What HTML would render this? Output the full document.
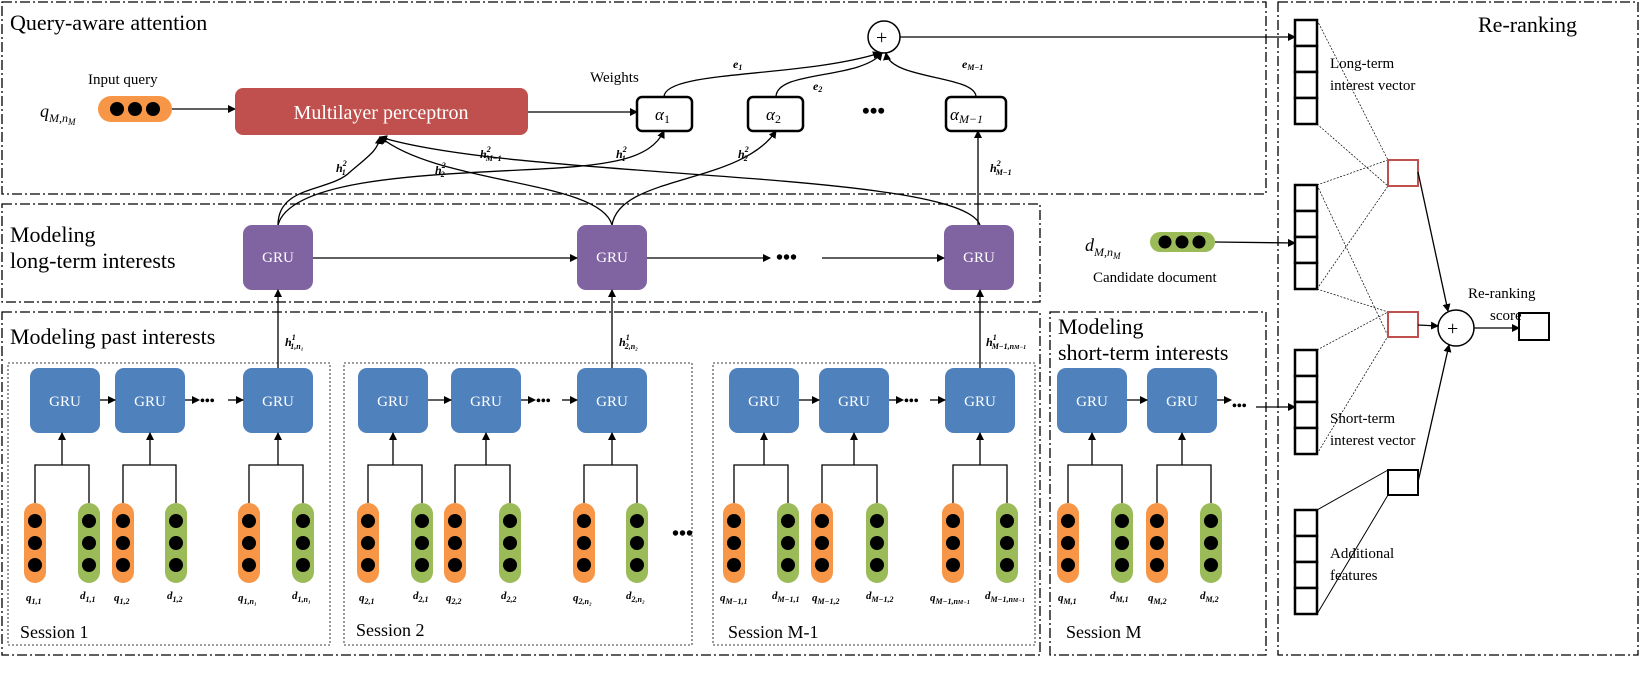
<!DOCTYPE html>
<html><head><meta charset="utf-8"><style>
html,body{margin:0;padding:0;background:#fff;}
svg{display:block;font-family:"Liberation Serif",serif;}
.t{font-size:22px;fill:#000}
.s{font-size:15px}
.g{font-size:15px;fill:#fff;text-anchor:middle}
.b{font-weight:bold;font-style:italic;font-size:12px}
</style></head><body>
<svg width="1641" height="691" viewBox="0 0 1641 691" xmlns="http://www.w3.org/2000/svg">
<defs>
<marker id="a" markerWidth="8" markerHeight="8" refX="7" refY="4" orient="auto" markerUnits="userSpaceOnUse"><path d="M0,0 L8,4 L0,8 z" fill="#000"/></marker>
<g id="po"><rect x="-11" y="0" width="22" height="80" rx="11" fill="#f79646"/><circle cx="0" cy="18" r="7"/><circle cx="0" cy="40" r="7"/><circle cx="0" cy="62" r="7"/></g>
<g id="pg"><rect x="-11" y="0" width="22" height="80" rx="11" fill="#9bbb59"/><circle cx="0" cy="18" r="7"/><circle cx="0" cy="40" r="7"/><circle cx="0" cy="62" r="7"/></g>
<g id="vec"><rect x="0" y="0" width="22" height="26" fill="#fff" stroke="#000" stroke-width="2.5"/><rect x="0" y="26" width="22" height="26" fill="#fff" stroke="#000" stroke-width="2.5"/><rect x="0" y="52" width="22" height="26" fill="#fff" stroke="#000" stroke-width="2.5"/><rect x="0" y="78" width="22" height="26" fill="#fff" stroke="#000" stroke-width="2.5"/></g>
</defs>
<g fill="none" stroke="#000" stroke-width="1.3" stroke-dasharray="10,3,2,3">
<rect x="2" y="2" width="1264" height="192"/>
<rect x="2" y="204" width="1038" height="98"/>
<rect x="2" y="312" width="1038" height="343"/>
<rect x="1050" y="312" width="216" height="343"/>
<rect x="1278" y="2" width="360" height="653"/>
</g>
<g fill="none" stroke="#000" stroke-width="0.8" stroke-dasharray="2,2">
<rect x="8" y="363" width="322" height="282"/>
<rect x="344" y="363" width="348" height="282"/>
<rect x="713" y="363" width="322" height="282"/>
</g>
<text class="t" x="10" y="30">Query-aware attention</text>
<text class="t" x="1478" y="32">Re-ranking</text>
<text class="t" x="10" y="242">Modeling</text>
<text class="t" x="10" y="268">long-term interests</text>
<text class="t" x="10" y="344">Modeling past interests</text>
<text class="t" x="1058" y="334">Modeling</text>
<text class="t" x="1058" y="360">short-term interests</text>
<text class="t" x="20" y="638" style="font-size:18px">Session 1</text>
<text class="t" x="356" y="636" style="font-size:18px">Session 2</text>
<text class="t" x="728" y="638" style="font-size:18px">Session M-1</text>
<text class="t" x="1066" y="638" style="font-size:18px">Session M</text>

<text class="s" x="88" y="84">Input query</text>
<text x="40" y="117" style="font-size:18px;font-style:italic">q<tspan font-size="12" dy="5">M,n</tspan><tspan font-size="9" dy="3">M</tspan></text>
<rect x="98" y="96" width="74" height="26" rx="13" fill="#f79646"/>
<circle cx="117" cy="109" r="7"/><circle cx="135" cy="109" r="7"/><circle cx="153" cy="109" r="7"/>
<line x1="172" y1="109" x2="235" y2="109" stroke="#000" stroke-width="1.3" marker-end="url(#a)"/>
<rect x="235" y="88" width="293" height="47" rx="8" fill="#c0504d"/>
<text x="381" y="119" style="font-size:20px;fill:#fff;text-anchor:middle">Multilayer perceptron</text>
<line x1="528" y1="112" x2="637" y2="112" stroke="#000" stroke-width="1.3" marker-end="url(#a)"/>
<text class="s" x="590" y="82">Weights</text>
<g fill="#fff" stroke="#000" stroke-width="2.5">
<rect x="637" y="97" width="55" height="34" rx="5"/>
<rect x="748" y="97" width="55" height="34" rx="5"/>
<rect x="946" y="97" width="60" height="34" rx="5"/>
<circle cx="884" cy="37" r="16" stroke-width="1.5"/>
</g>
<text x="655" y="120" style="font-size:17px;font-style:italic">α<tspan font-size="12" dy="3" font-style="normal">1</tspan></text>
<text x="766" y="120" style="font-size:17px;font-style:italic">α<tspan font-size="12" dy="3" font-style="normal">2</tspan></text>
<text x="950" y="120" style="font-size:17px;font-style:italic">α<tspan font-size="12" dy="3">M−1</tspan></text>
<text x="876" y="44" style="font-size:20px">+</text>
<text x="862" y="118" style="font-size:22px;font-weight:bold">•••</text>
<g fill="none" stroke="#000" stroke-width="1.3">
<path d="M664,97 C664,70 800,78 880,53" marker-end="url(#a)"/>
<path d="M776,97 C776,70 860,80 882,53" marker-end="url(#a)"/>
<path d="M976,97 C976,75 890,80 886,53" marker-end="url(#a)"/>
<line x1="900" y1="37" x2="1295" y2="37" marker-end="url(#a)"/>
<path d="M278,225 C278,185 330,192 350,172 C370,155 378,150 380,137" marker-end="url(#a)"/>
<path d="M278,225 C290,180 420,175 520,170 C610,166 650,160 664,131" marker-end="url(#a)"/>
<path d="M612,225 C600,180 440,185 380,137" marker-end="url(#a)"/>
<path d="M612,225 C620,175 740,185 776,131" marker-end="url(#a)"/>
<path d="M980,225 C960,170 520,180 380,137" marker-end="url(#a)"/>
<line x1="978" y1="225" x2="978" y2="131" marker-end="url(#a)"/>
</g>
<g class="b">
<text x="733" y="68">e<tspan font-size="8" dy="2">1</tspan></text>
<text x="813" y="90">e<tspan font-size="8" dy="2">2</tspan></text>
<text x="962" y="68">e<tspan font-size="8" dy="2">M−1</tspan></text>
<text x="336" y="172">h<tspan font-size="8" dy="-6">2</tspan><tspan font-size="8" dx="-5" dy="9">1</tspan></text>
<text x="435" y="174">h<tspan font-size="8" dy="-6">2</tspan><tspan font-size="8" dx="-5" dy="9">2</tspan></text>
<text x="480" y="158">h<tspan font-size="8" dy="-6">2</tspan><tspan font-size="8" dx="-5" dy="9">M−1</tspan></text>
<text x="616" y="158">h<tspan font-size="8" dy="-6">2</tspan><tspan font-size="8" dx="-5" dy="9">1</tspan></text>
<text x="738" y="158">h<tspan font-size="8" dy="-6">2</tspan><tspan font-size="8" dx="-5" dy="9">2</tspan></text>
<text x="990" y="172">h<tspan font-size="8" dy="-6">2</tspan><tspan font-size="8" dx="-5" dy="9">M−1</tspan></text>
<text x="285" y="346">h<tspan font-size="8" dy="-6">1</tspan><tspan font-size="8" dx="-5" dy="9">1,n₁</tspan></text>
<text x="619" y="346">h<tspan font-size="8" dy="-6">1</tspan><tspan font-size="8" dx="-5" dy="9">2,n₂</tspan></text>
<text x="986" y="346">h<tspan font-size="8" dy="-6">1</tspan><tspan font-size="8" dx="-5" dy="9">M−1,n<tspan font-size="6">M−1</tspan></tspan></text>
</g>

<g fill="#8064a2">
<rect x="243" y="225" width="70" height="65" rx="9"/>
<rect x="577" y="225" width="70" height="65" rx="9"/>
<rect x="944" y="225" width="70" height="65" rx="9"/>
</g>
<text class="g" x="278" y="262">GRU</text><text class="g" x="612" y="262">GRU</text><text class="g" x="979" y="262">GRU</text>
<g stroke="#000" stroke-width="1.3" fill="none">
<line x1="313" y1="258" x2="577" y2="258" marker-end="url(#a)"/>
<line x1="647" y1="258" x2="770" y2="258" marker-end="url(#a)"/>
<line x1="822" y1="258" x2="944" y2="258" marker-end="url(#a)"/>
<line x1="278" y1="368" x2="278" y2="290" marker-end="url(#a)"/>
<line x1="612" y1="368" x2="612" y2="290" marker-end="url(#a)"/>
<line x1="980" y1="368" x2="980" y2="290" marker-end="url(#a)"/>
</g>
<text x="776" y="264" style="font-size:20px;font-weight:bold">•••</text>

<g fill="#4f81bd">
<rect x="30" y="368" width="70" height="65" rx="9"/><rect x="115" y="368" width="70" height="65" rx="9"/><rect x="243" y="368" width="70" height="65" rx="9"/>
<rect x="358" y="368" width="70" height="65" rx="9"/><rect x="451" y="368" width="70" height="65" rx="9"/><rect x="577" y="368" width="70" height="65" rx="9"/>
<rect x="729" y="368" width="70" height="65" rx="9"/><rect x="819" y="368" width="70" height="65" rx="9"/><rect x="945" y="368" width="70" height="65" rx="9"/>
<rect x="1057" y="368" width="70" height="65" rx="9"/><rect x="1147" y="368" width="70" height="65" rx="9"/>
</g>
<g>
<text class="g" x="65" y="406">GRU</text><text class="g" x="150" y="406">GRU</text><text class="g" x="278" y="406">GRU</text>
<text class="g" x="393" y="406">GRU</text><text class="g" x="486" y="406">GRU</text><text class="g" x="612" y="406">GRU</text>
<text class="g" x="764" y="406">GRU</text><text class="g" x="854" y="406">GRU</text><text class="g" x="980" y="406">GRU</text>
<text class="g" x="1092" y="406">GRU</text><text class="g" x="1182" y="406">GRU</text>
</g>
<g stroke="#000" stroke-width="1.3" fill="none">
<line x1="100" y1="400" x2="115" y2="400" marker-end="url(#a)"/>
<line x1="185" y1="400" x2="199" y2="400" marker-end="url(#a)"/><line x1="228" y1="400" x2="243" y2="400" marker-end="url(#a)"/>
<line x1="428" y1="400" x2="451" y2="400" marker-end="url(#a)"/>
<line x1="521" y1="400" x2="535" y2="400" marker-end="url(#a)"/><line x1="562" y1="400" x2="577" y2="400" marker-end="url(#a)"/>
<line x1="799" y1="400" x2="819" y2="400" marker-end="url(#a)"/>
<line x1="889" y1="400" x2="903" y2="400" marker-end="url(#a)"/><line x1="930" y1="400" x2="945" y2="400" marker-end="url(#a)"/>
<line x1="1127" y1="400" x2="1147" y2="400" marker-end="url(#a)"/>
<line x1="1217" y1="400" x2="1231" y2="400" marker-end="url(#a)"/><line x1="1256" y1="407" x2="1295" y2="407" marker-end="url(#a)"/>
</g>
<g style="font-size:14px;font-weight:bold">
<text x="200" y="405">•••</text><text x="536" y="405">•••</text><text x="904" y="405">•••</text><text x="1232" y="410">•••</text>
</g>
<text x="672" y="540" style="font-size:20px;font-weight:bold">•••</text>

<g stroke="#000" stroke-width="1.3" fill="none">
<path d="M35,503 V465 H89 V503 M62,465 V433" marker-end="url(#a)"/>
<path d="M123,503 V465 H176 V503 M150,465 V433" marker-end="url(#a)"/>
<path d="M249,503 V465 H303 V503 M278,465 V433" marker-end="url(#a)"/>
<path d="M368,503 V465 H422 V503 M393,465 V433" marker-end="url(#a)"/>
<path d="M455,503 V465 H510 V503 M486,465 V433" marker-end="url(#a)"/>
<path d="M584,503 V465 H637 V503 M612,465 V433" marker-end="url(#a)"/>
<path d="M734,503 V465 H788 V503 M764,465 V433" marker-end="url(#a)"/>
<path d="M822,503 V465 H877 V503 M854,465 V433" marker-end="url(#a)"/>
<path d="M953,503 V465 H1007 V503 M980,465 V433" marker-end="url(#a)"/>
<path d="M1068,503 V465 H1122 V503 M1092,465 V433" marker-end="url(#a)"/>
<path d="M1157,503 V465 H1211 V503 M1182,465 V433" marker-end="url(#a)"/>
</g>
<use href="#po" x="35" y="503"/><use href="#pg" x="89" y="503"/><use href="#po" x="123" y="503"/><use href="#pg" x="176" y="503"/><use href="#po" x="249" y="503"/><use href="#pg" x="303" y="503"/>
<use href="#po" x="368" y="503"/><use href="#pg" x="422" y="503"/><use href="#po" x="455" y="503"/><use href="#pg" x="510" y="503"/><use href="#po" x="584" y="503"/><use href="#pg" x="637" y="503"/>
<use href="#po" x="734" y="503"/><use href="#pg" x="788" y="503"/><use href="#po" x="822" y="503"/><use href="#pg" x="877" y="503"/><use href="#po" x="953" y="503"/><use href="#pg" x="1007" y="503"/>
<use href="#po" x="1068" y="503"/><use href="#pg" x="1122" y="503"/><use href="#po" x="1157" y="503"/><use href="#pg" x="1211" y="503"/>
<g class="b" style="font-size:11px">
<text x="26" y="601">q<tspan font-size="8" dy="3">1,1</tspan></text><text x="80" y="599">d<tspan font-size="8" dy="3">1,1</tspan></text>
<text x="114" y="601">q<tspan font-size="8" dy="3">1,2</tspan></text><text x="167" y="599">d<tspan font-size="8" dy="3">1,2</tspan></text>
<text x="238" y="601">q<tspan font-size="8" dy="3">1,n₁</tspan></text><text x="292" y="599">d<tspan font-size="8" dy="3">1,n₁</tspan></text>
<text x="359" y="601">q<tspan font-size="8" dy="3">2,1</tspan></text><text x="413" y="599">d<tspan font-size="8" dy="3">2,1</tspan></text>
<text x="446" y="601">q<tspan font-size="8" dy="3">2,2</tspan></text><text x="501" y="599">d<tspan font-size="8" dy="3">2,2</tspan></text>
<text x="573" y="601">q<tspan font-size="8" dy="3">2,n₂</tspan></text><text x="626" y="599">d<tspan font-size="8" dy="3">2,n₂</tspan></text>
<text x="720" y="601">q<tspan font-size="8" dy="3">M−1,1</tspan></text><text x="772" y="599">d<tspan font-size="8" dy="3">M−1,1</tspan></text>
<text x="812" y="601">q<tspan font-size="8" dy="3">M−1,2</tspan></text><text x="866" y="599">d<tspan font-size="8" dy="3">M−1,2</tspan></text>
<text x="930" y="601">q<tspan font-size="8" dy="3">M−1,n<tspan font-size="6">M−1</tspan></tspan></text><text x="985" y="599">d<tspan font-size="8" dy="3">M−1,n<tspan font-size="6">M−1</tspan></tspan></text>
<text x="1058" y="601">q<tspan font-size="8" dy="3">M,1</tspan></text><text x="1110" y="599">d<tspan font-size="8" dy="3">M,1</tspan></text>
<text x="1148" y="601">q<tspan font-size="8" dy="3">M,2</tspan></text><text x="1200" y="599">d<tspan font-size="8" dy="3">M,2</tspan></text>
</g>

<text x="1085" y="251" style="font-size:18px;font-style:italic">d<tspan font-size="12" dy="5">M,n</tspan><tspan font-size="9" dy="3">M</tspan></text>
<rect x="1150" y="232" width="65" height="20" rx="10" fill="#9bbb59"/>
<circle cx="1165" cy="242" r="6.5"/><circle cx="1182" cy="242" r="6.5"/><circle cx="1199" cy="242" r="6.5"/>
<line x1="1215" y1="242" x2="1295" y2="243" stroke="#000" stroke-width="1.3" marker-end="url(#a)"/>
<text class="s" x="1093" y="282">Candidate document</text>

<g stroke="#000" stroke-width="0.7" stroke-dasharray="2,1.5" fill="none">
<line x1="1317" y1="20" x2="1388" y2="160"/><line x1="1317" y1="124" x2="1388" y2="186"/>
<line x1="1317" y1="185" x2="1388" y2="160"/><line x1="1317" y1="185" x2="1388" y2="336"/>
<line x1="1317" y1="289" x2="1388" y2="186"/><line x1="1317" y1="289" x2="1388" y2="312"/>
<line x1="1317" y1="350" x2="1388" y2="312"/><line x1="1317" y1="454" x2="1388" y2="336"/>
</g>
<g stroke="#000" stroke-width="1" fill="none">
<line x1="1317" y1="510" x2="1388" y2="470"/><line x1="1317" y1="614" x2="1388" y2="495"/>
</g>
<use href="#vec" x="1295" y="20"/><use href="#vec" x="1295" y="185"/><use href="#vec" x="1295" y="350"/><use href="#vec" x="1295" y="510"/>
<g class="s">
<text x="1330" y="68">Long-term</text><text x="1330" y="90">interest vector</text>
<text x="1330" y="423">Short-term</text><text x="1330" y="445">interest vector</text>
<text x="1330" y="558">Additional</text><text x="1330" y="580">features</text>
<text x="1468" y="298">Re-ranking</text><text x="1490" y="320">score</text>
</g>
<rect x="1388" y="160" width="30" height="26" fill="none" stroke="#c0504d" stroke-width="2"/>
<rect x="1388" y="312" width="30" height="25" fill="none" stroke="#c0504d" stroke-width="2"/>
<rect x="1388" y="470" width="30" height="25" fill="none" stroke="#000" stroke-width="2"/>
<circle cx="1456" cy="328" r="18" fill="#fff" stroke="#000" stroke-width="1.5"/>
<text x="1447" y="335" style="font-size:20px">+</text>
<rect x="1519" y="313" width="30" height="27" fill="none" stroke="#000" stroke-width="2"/>
<g stroke="#000" stroke-width="1.3" fill="none">
<line x1="1418" y1="172" x2="1448" y2="311" marker-end="url(#a)"/>
<line x1="1418" y1="325" x2="1438" y2="326" marker-end="url(#a)"/>
<line x1="1418" y1="482" x2="1449" y2="345" marker-end="url(#a)"/>
<line x1="1474" y1="328" x2="1519" y2="328" marker-end="url(#a)"/>
</g>
</svg>
</body></html>
